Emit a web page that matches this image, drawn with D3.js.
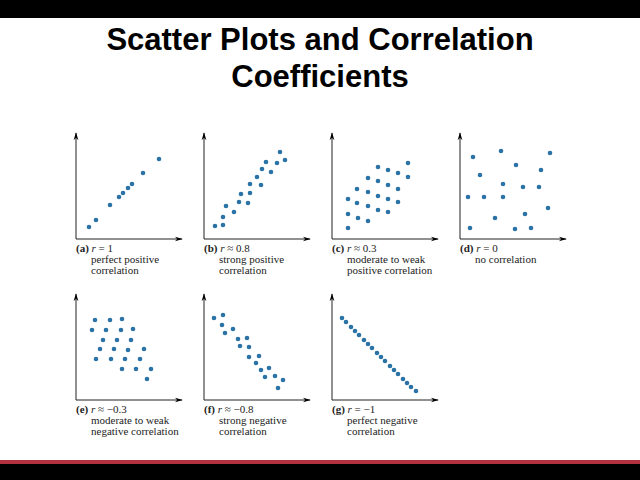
<!DOCTYPE html><html><head><meta charset="utf-8">
<script src="https://cdn.jsdelivr.net/npm/d3@7"></script>
<style>body{margin:0;background:#fff}</style></head><body><svg id="c" width="640" height="480"></svg>
<script>
const panelIds=["a","b","c","d","e","f","g"];
const panelR=["r = 1","r ≈ 0.8","r ≈ 0.3","r = 0","r ≈ −0.3","r ≈ −0.8","r = −1"];
const panelDesc=[["perfect positive","correlation"],["strong positive","correlation"],["moderate to weak","positive correlation"],["no correlation"],["moderate to weak","negative correlation"],["strong negative","correlation"],["perfect negative","correlation"]];
const ptsA=[[13,12],[20,19],[34,34],[43,42],[47,46],[52,51],[56,55],[67,66],[83,80]];
const ptsB=[[11,13],[19,14],[19,22],[22,33],[30,27],[35,37],[37,45],[44,36],[46,46],[46,55],[53,62],[57,54],[58,70],[62,77],[67,67],[73,76],[76,87],[81,79]];
const ptsC=[[16,11],[16,25],[26,21],[36,18],[16,40],[25,36],[36,33],[46,29],[56,27],[25,50],[36,47],[46,43],[56,40],[66,37],[36,61],[46,58],[56,54],[66,50],[46,72],[56,69],[66,66],[76,76],[76,62]];
const ptsD=[[13,82],[41,88],[90,86],[56,74],[81,69],[20,64],[43,55],[63,52],[79,52],[8,42],[24,42],[43,42],[88,31],[65,25],[35,21],[10,11],[55,10],[71,11]];
const ptsE=[[19,80],[34,80],[46,81],[16,70],[30,70],[45,70],[57,71],[27,60],[41,60],[55,60],[24,51],[38,51],[52,50],[68,51],[20,41],[35,41],[49,41],[64,41],[46,31],[60,31],[75,31],[71,21]];
const ptsF=[[10,82],[19,85],[18,75],[21,67],[29,71],[34,61],[43,62],[36,54],[45,53],[45,43],[55,44],[52,37],[57,30],[65,32],[61,23],[71,24],[79,20],[74,12]];
const ptsG=[[10,82],[14,78],[19,73],[23,69],[27,65],[32,60],[36,56],[40,52],[45,47],[49,43],[53,39],[58,34],[62,30],[66,26],[71,21],[75,17],[79,13],[84,9]];
const allPts=[ptsA,ptsB,ptsC,ptsD,ptsE,ptsF,ptsG];
const origins=[[76,239],[204,239],[332,239],[460,239],[76,400],[204,400],[332,400]];

const svg=d3.select("#c");
svg.append("rect").attr("width",640).attr("height",480).attr("fill","#fff");
svg.append("rect").attr("width",640).attr("height",18).attr("fill","#000");
svg.append("rect").attr("y",460).attr("width",640).attr("height",4).attr("fill","#b3323f");
svg.append("rect").attr("y",464).attr("width",640).attr("height",16).attr("fill","#000");
const t=svg.append("text").attr("text-anchor","middle").attr("font-family","Liberation Sans, Arial").attr("font-weight","bold").attr("font-size",31).attr("fill","#000");
t.append("tspan").attr("x",320).attr("y",50).text("Scatter Plots and Correlation");
t.append("tspan").attr("x",320).attr("y",87).text("Coefficients");

const defs=svg.append("defs");
defs.append("marker").attr("id","arr").attr("viewBox","0 0 10 10").attr("refX",9).attr("refY",5).attr("markerWidth",8).attr("markerHeight",8).attr("orient","auto").append("path").attr("d","M0,2 L10,5 L0,8 L3,5 Z").attr("fill","#000");

const L=106;
allPts.forEach((pts,i)=>{
  const [ox,oy]=origins[i];
  const g=svg.append("g").attr("transform",`translate(${ox},${oy})`);
  const x=d3.scaleLinear().domain([0,L]).range([0,L]);
  const y=d3.scaleLinear().domain([0,L]).range([0,-L]);
  g.append("line").attr("x1",0).attr("y1",0).attr("x2",L).attr("y2",0).attr("stroke","#222").attr("stroke-width",1).attr("marker-end","url(#arr)");
  g.append("line").attr("x1",0).attr("y1",0).attr("x2",0).attr("y2",-L).attr("stroke","#222").attr("stroke-width",1).attr("marker-end","url(#arr)");
  g.selectAll("circle").data(pts).join("circle").attr("cx",d=>x(d[0])).attr("cy",d=>y(d[1])).attr("r",2.3).attr("fill","#2b73a6");
  const lab=g.append("text").attr("font-family","Liberation Serif, Times New Roman").attr("font-size",11).attr("fill","#222").attr("y",13);
  lab.append("tspan").attr("font-weight","bold").text(`(${panelIds[i]}) `);
  lab.append("tspan").attr("font-style","italic").text(panelR[i].slice(0,1));
  lab.append("tspan").text(panelR[i].slice(1));
  panelDesc[i].forEach((s,j)=>g.append("text").attr("font-family","Liberation Serif, Times New Roman").attr("font-size",11).attr("fill","#222").attr("x",15).attr("y",24+j*11).text(s));
});
</script></body></html>
